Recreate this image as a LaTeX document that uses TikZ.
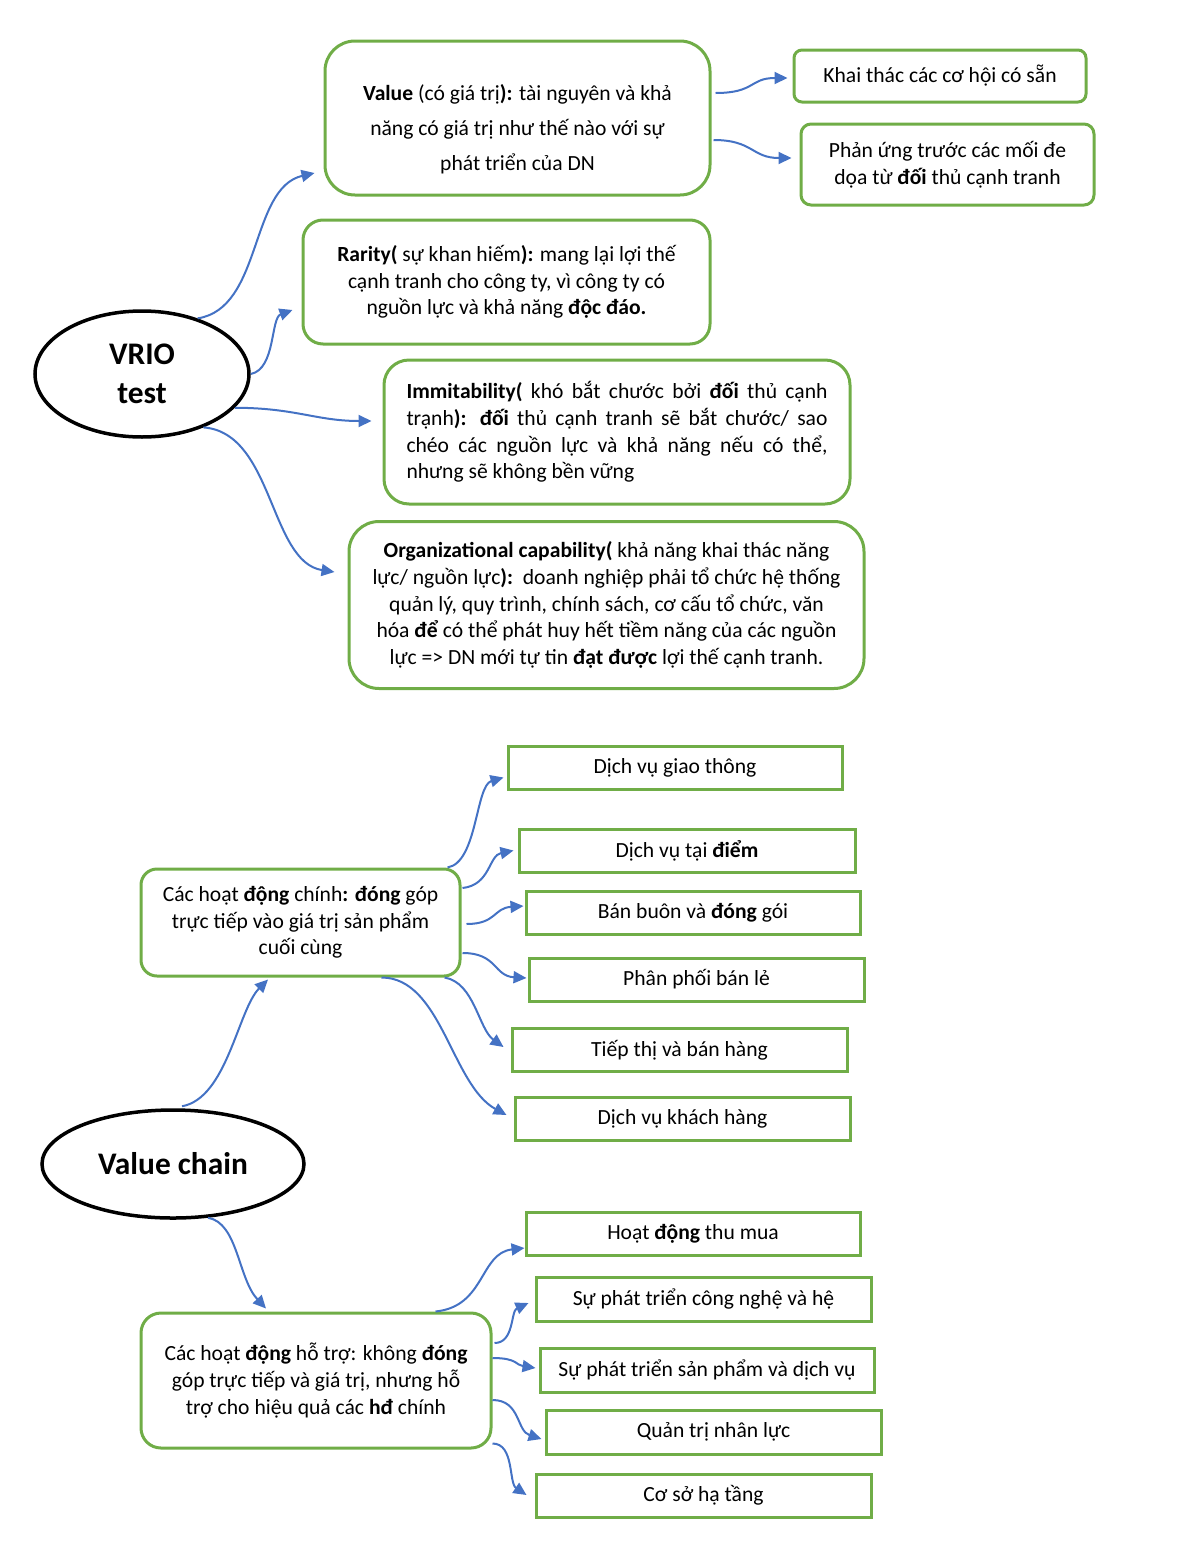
\documentclass[tikz,border=0pt]{standalone}
\usepackage{fontspec}
\setmainfont{Carlito}
\usetikzlibrary{shapes.geometric,arrows.meta,calc}
\definecolor{vgreen}{HTML}{70AD47}
\definecolor{vblue}{HTML}{4472C4}
\begin{document}
\begin{tikzpicture}[x=0.5pt,y=-0.5pt,
  gbox/.style={draw=vgreen, line width=1.5pt, rounded corners=#1, align=center, inner sep=0pt,
    font=\fontsize{10.8}{13.3}\selectfont},
  gbox/.default=10pt,
  rbox/.style={draw=vgreen, line width=1.5pt, align=center, inner sep=0pt,
    minimum width=167pt, minimum height=21.5pt, font=\fontsize{10.8}{13.3}\selectfont},
  oval/.style={ellipse, draw=black, line width=1.75pt, inner sep=0pt, align=center,
    font=\fontsize{15.7}{19.5}\selectfont\bfseries},
  arr/.style={draw=vblue, line width=1pt, -{Triangle[length=6.5pt,width=6pt]}}
]
\useasboundingbox (0,0) rectangle (1200,1553);

% ---------- VRIO part ----------
\node[oval, minimum width=107pt, minimum height=63pt] (vrio) at (142,374) {VRIO\\test};

\node[gbox=15pt, minimum width=192.5pt, minimum height=77pt, font=\fontsize{10.8}{17.5}\selectfont] (value) at (517.5,118)
  {\rule{0pt}{19pt}\textbf{Value} (có giá trị\textbf{):} tài nguyên và khả\\ năng có giá trị như thế nào với sự\\ phát triển của DN};

\node[gbox=4pt, minimum width=146pt, minimum height=26pt] (khai) at (940,76) {Khai thác các cơ hội có sẵn};
\node[gbox=5pt, minimum width=146.5pt, minimum height=40.5pt] (phan) at (947.5,164.5)
  {Phản ứng trước các mối đe\\dọa từ \textbf{đối} thủ cạnh tranh};

\node[gbox=10pt, minimum width=203.5pt, minimum height=62pt] (rarity) at (506.5,282)
  {\textbf{Rarity(} sự khan hiếm\textbf{):} mang lại lợi thế\\
   cạnh tranh cho công ty, vì công ty có\\
   nguồn lực và khả năng \textbf{độc đáo.}};

\node[gbox=12.5pt, minimum width=233pt, minimum height=72pt, align=left] (immit) at (617,432)
  {\makebox[210.5pt][s]{\textbf{Immitability(} khó bắt chước bởi \textbf{đối} thủ cạnh}\\
   \makebox[210.5pt][s]{trạnh\textbf{): đối} thủ cạnh tranh sẽ bắt chước/ sao}\\
   \makebox[210.5pt][s]{chéo các nguồn lực và khả năng nếu có thể,}\\
   nhưng sẽ không bền vững};

\node[gbox=15pt, minimum width=257.5pt, minimum height=83.5pt] (org) at (606.5,605)
  {\textbf{Organizational capability(} khả năng khai thác năng\\
   lực/ nguồn lực\textbf{):}\ \ doanh nghiệp phải tổ chức hệ thống\\
   quản lý, quy trình, chính sách, cơ cấu tổ chức, văn\\
   hóa \textbf{để} có thể phát huy hết tiềm năng của các nguồn\\
   lực => DN mới tự tin \textbf{đạt được} lợi thế cạnh tranh.};

\draw[arr] (vrio.45) .. controls +(65,-10) and +(-65,15) .. ($(value.west)+(-9,55)$);
\draw[arr] (vrio.east) .. controls +(25,-5) and +(-22,8) .. ($(rarity.west)+(-9,28)$);
\draw[arr] (vrio.-20) .. controls +(60,0) and +(-55,0) .. ($(immit.west)+(-11,-11)$);
\draw[arr] (vrio.-41) .. controls +(70,5) and +(-65,-10) .. ($(org.west)+(-13,-33)$);
\draw[arr] ($(value.east)+(4,-25)$) .. controls +(40,0) and +(-38,0) .. ($(khai.west)+(-5,2)$);
\draw[arr] ($(value.east)+(2,22)$) .. controls +(40,0) and +(-40,0) .. ($(phan.west)+(-8,-6.5)$);

% ---------- Value chain part ----------
\node[oval, minimum width=131pt, minimum height=54pt] (vc) at (173,1164) {Value chain};

\node[gbox=8pt, minimum width=159.5pt, minimum height=53.5pt] (prim) at (300.5,922.5)
  {Các hoạt \textbf{động} chính\textbf{:} \textbf{đóng} góp\\trực tiếp vào giá trị sản phẩm\\cuối cùng};

\node[rbox] (b1) at (675,767.5) {Dịch vụ giao thông};
\node[rbox, minimum width=168pt] (b2) at (687,850.5) {Dịch vụ tại \textbf{điểm}};
\node[rbox] (b3) at (693,912.5) {Bán buôn và \textbf{đóng} gói};
\node[rbox, minimum width=167.5pt] (b4) at (696.5,979.5) {Phân phối bán lẻ};
\node[rbox, minimum width=167.5pt] (b5) at (679.5,1050) {Tiếp thị và bán hàng};
\node[rbox, minimum width=167.5pt] (b6) at (682.5,1118.5) {Dịch vụ khách hàng};

\node[gbox=10pt, minimum width=175pt, minimum height=67.5pt] (supp) at (316,1380.5)
  {Các hoạt \textbf{động} hỗ trợ: không \textbf{đóng}\\góp trực tiếp và giá trị, nhưng hỗ\\trợ cho hiệu quả các \textbf{hđ} chính};

\node[rbox] (s1) at (693,1233.5) {Hoạt \textbf{động} thu mua};
\node[rbox, minimum width=167.5pt, minimum height=22pt] (s2) at (703.5,1299) {Sự phát triển công nghệ và hệ};
\node[rbox, minimum height=22pt] (s3) at (707,1370) {Sự phát triển sản phẩm và dịch vụ};
\node[rbox, minimum width=167.5pt, minimum height=22pt] (s4) at (713.5,1432) {Quản trị nhân lực};
\node[rbox, minimum width=167.5pt] (s5) at (703.5,1495.5) {Cơ sở hạ tầng};

\draw[arr] ($(vc.north)+(9,-2)$) .. controls +(45,-8) and +(-30,30) .. ($(prim.south)+(-32.5,2)$);
\draw[arr] ($(prim.north east)+(-14,0)$) .. controls +(30,-5) and +(-28,8) .. ($(b1.west)+(-3,10)$);
\draw[arr] ($(prim.east)+(1,-34.5)$) .. controls +(28,-3) and +(-25,5) .. ($(b2.west)+(-4,0)$);
\draw[arr] ($(prim.east)+(5,1.5)$) .. controls +(30,0) and +(-30,2) .. ($(b3.west)+(-1,-6.5)$);
\draw[arr] ($(prim.east)+(1,30.5)$) .. controls +(35,0) and +(-33,-2) .. ($(b4.west)+(-1,-1.5)$);
\draw[arr] ($(prim.south east)+(-17,0)$) .. controls +(30,5) and +(-25,-18) .. ($(b5.west)+(-7,-3)$);
\draw[arr] ($(prim.south east)+(-80,0)$) .. controls +(60,0) and +(-55,-30) .. ($(b6.west)+(-7,-3.5)$);

\draw[arr] ($(vc.south)+(35,-2)$) .. controls +(30,5) and +(-28,-30) .. ($(supp.north)+(-50,-3)$);
\draw[arr] ($(supp.north east)+(-57,0)$) .. controls +(50,-5) and +(-45,5) .. ($(s1.west)+(0,14.5)$);
\draw[arr] ($(supp.east)+(2,-37.5)$) .. controls +(20,0) and +(-18,8) .. ($(s2.west)+(-6,4)$);
\draw[arr] ($(supp.east)+(0,-22.5)$) .. controls +(25,0) and +(-20,-3) .. ($(s3.west)+(-3,-2)$);
\draw[arr] ($(supp.east)+(0,19.5)$) .. controls +(28,0) and +(-25,-8) .. ($(s4.west)+(-3,7)$);
\draw[arr] ($(supp.south east)+(0,-6)$) .. controls +(22,0) and +(-18,-12) .. ($(s5.west)+(-8,-0.5)$);
\end{tikzpicture}
\end{document}
